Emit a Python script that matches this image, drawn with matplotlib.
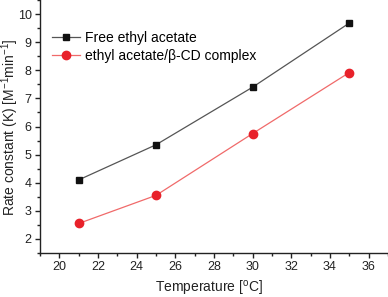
import matplotlib
matplotlib.use("Agg")
import matplotlib.pyplot as plt
from matplotlib.ticker import MultipleLocator

# data
temps = [21, 25, 30, 35]
k_free = [4.1, 5.35, 7.4, 9.68]
k_complex = [2.55, 3.55, 5.75, 7.92]

plt.rcParams['font.family'] = ['Liberation Sans', 'DejaVu Sans']
plt.rcParams['mathtext.fontset'] = 'custom'
plt.rcParams['mathtext.rm'] = 'Liberation Sans'

W, H = 388, 297
fig = plt.figure(figsize=(W / 100, H / 100), dpi=100)
ax = fig.add_axes([40 / W, 44 / H, 348 / W, 253 / H])

ax.plot(temps, k_free, color='#555555', lw=0.9, marker='s', ms=5,
        mfc='#111111', mec='#111111', label='Free ethyl acetate')
ax.plot(temps, k_complex, color='#f06a6a', lw=0.9, marker='o', ms=6,
        mfc='#e8212a', mec='#e8212a', label='ethyl acetate/β-CD complex')

ax.set_xlim(19, 37)
ax.set_ylim(1.5, 10.5)
ax.xaxis.set_major_locator(MultipleLocator(2))
ax.xaxis.set_minor_locator(MultipleLocator(1))
ax.yaxis.set_major_locator(MultipleLocator(1))
ax.yaxis.set_minor_locator(MultipleLocator(0.5))

for s in ['top', 'right']:
    ax.spines[s].set_visible(False)
for s in ['left', 'bottom']:
    ax.spines[s].set_linewidth(1.0)
    ax.spines[s].set_color('#222222')

ax.tick_params(which='major', direction='out', length=3.5, width=1, pad=2.5,
               labelsize=9, colors='#222222')
ax.tick_params(which='minor', direction='out', length=2, width=1, colors='#222222')

# axis titles placed by hand so they fit in the small canvas
fig.text(209 / W, 1 - 288 / H, 'Temperature [$^{\\rm o}$C]', fontsize=10,
         color='#222222', ha='center', va='center')
fig.text(10.5 / W, 1 - 127 / H, 'Rate constant (K) [M$^{-1}$min$^{-1}$]', fontsize=10,
         color='#222222', ha='center', va='center', rotation=90)

ax.legend(loc='upper left', bbox_to_anchor=(0.034, 0.877), frameon=False, fontsize=10,
          handlelength=2.0, handletextpad=0.36, labelspacing=0.3, borderaxespad=0,
          borderpad=0)

plt.savefig('out.png', dpi=100)
